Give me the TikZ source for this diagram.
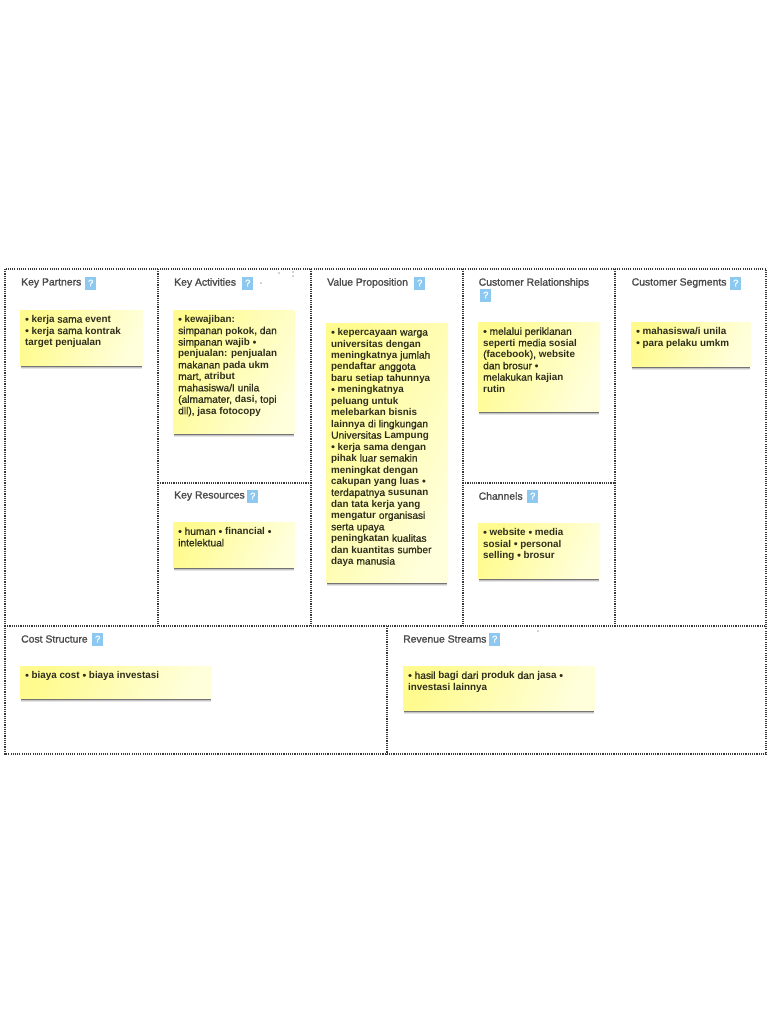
\documentclass[tikz,border=0pt]{standalone}
\usepackage{fontspec}
\setmainfont[FakeBold=0.9]{Liberation Sans}
\newfontfamily\headfont[FakeBold=1.3]{Liberation Sans}
\newfontfamily\strongfont[Scale=0.965]{Liberation Sans Bold}
\newcommand{\bb}[1]{{\strongfont #1}}
\usetikzlibrary{positioning}
\definecolor{gridc}{HTML}{3A3A3A}
\definecolor{headc}{HTML}{4A4A4A}
\definecolor{bodyc}{HTML}{2E2E1C}
\definecolor{helpc}{HTML}{8CC8F0}
\definecolor{stickya}{HTML}{FFFB8E}
\definecolor{stickyb}{HTML}{FFFFDC}
\tikzset{
  gridline/.style={draw=gridc,line width=1.35pt,dash pattern=on 1.1pt off 1.1pt},
  headtext/.style={anchor=west,inner sep=0pt,text=headc,font=\headfont\fontsize{10.4}{11}\selectfont},
  helpbox/.style={anchor=west,inner sep=0pt,minimum width=11pt,minimum height=13pt,fill=helpc,text=white,font=\headfont\fontsize{9.5}{9.5}\selectfont},
  stickybody/.style={anchor=north west,inner sep=0pt,shading=axis,left color=stickya,right color=stickyb,shading angle=65},
  stickytext/.style={anchor=north west,inner sep=0pt,align=left,text=bodyc,font=\fontsize{10.2}{11.45}\selectfont},
  straydot/.style={fill=gridc,inner sep=0pt,minimum size=1.2pt,circle}
}
% #1 name, #2 x, #3 y, #4 width, #5 height, #6 text
\newcommand{\stickynote}[6]{%
  \foreach \s/\o in {3.6/0.1,3/0.14,2.4/0.2,1.8/0.25,1.2/0.3}{%
    \fill[black,opacity=\o] (#2+1,#3+#5-1) rectangle (#2+#4-1,#3+#5+\s);}
  \node[stickybody,minimum width=#4pt,minimum height=#5pt] (#1) at (#2,#3) {};
  \node[stickytext] (#1t) at (#2+5,#3+5.3) {#6};
}
% #1 name, #2 x, #3 y, #4 text, #5 icon x, #6 icon y
\newcommand{\headlabel}[6]{%
  \node[headtext] (#1) at (#2,#3) {#4};
  \node[helpbox] (#1q) at (#5,#6) {?};
}
\begin{document}
\begin{tikzpicture}[x=1pt,y=-1pt]
\useasboundingbox (0,0) rectangle (768,1024);
\fill[white] (0,0) rectangle (768,1024);
% grid
\draw[gridline] (5,269) rectangle (766,754);
\draw[gridline] (5,626) -- (766,626);
\draw[gridline] (158,269) -- (158,626);
\draw[gridline] (311,269) -- (311,626);
\draw[gridline] (463,269) -- (463,626);
\draw[gridline] (615,269) -- (615,626);
\draw[gridline] (387,626) -- (387,754);
\draw[gridline] (158,483) -- (311,483);
\draw[gridline] (463,483) -- (615,483);
% headings
\headlabel{kp}{21}{283}{Key Partners}{85}{283}
\headlabel{ka}{174}{283}{Key Activities}{242}{283}
\headlabel{vp}{327}{283}{Value Proposition}{414}{283}
\headlabel{cr}{478.5}{283}{Customer Relationships}{480}{295}
\headlabel{cs}{631.5}{283}{Customer Segments}{730}{283}
\headlabel{kr}{174}{496}{Key Resources}{247}{496}
\headlabel{ch}{478.5}{496}{Channels}{527}{496}
\headlabel{co}{21}{639}{Cost Structure}{92}{639}
\headlabel{re}{403}{639}{Revenue Streams}{489}{639}
% stickies
\stickynote{skp}{20}{310}{123}{55}{• \bb{kerja} sama \bb{event}\\• \bb{kerja} sama \bb{kontrak}\\\bb{target penjualan}}
\stickynote{ska}{173}{310}{122}{123}{• \bb{kewajiban:}\\simpanan \bb{pokok,} dan\\simpanan \bb{wajib} •\\\bb{penjualan: penjualan}\\makanan \bb{pada ukm}\\mart, \bb{atribut}\\mahasiswa/I unila\\(almamater, \bb{dasi,} topi\\dll), \bb{jasa fotocopy}}
\stickynote{svp}{326}{323}{122}{259}{• \bb{kepercayaan} warga\\\bb{universitas dengan}\\\bb{meningkatnya} jumlah\\\bb{pendaftar} anggota\\\bb{baru setiap tahunnya}\\• \bb{meningkatnya}\\\bb{peluang untuk}\\\bb{melebarkan bisnis}\\\bb{lainnya} di lingkungan\\Universitas \bb{Lampung}\\• \bb{kerja sama dengan}\\\bb{pihak} luar semakin\\\bb{meningkat dengan}\\\bb{cakupan yang luas} •\\terdapatnya \bb{susunan}\\\bb{dan tata kerja yang}\\\bb{mengatur} organisasi\\serta upaya\\\bb{peningkatan} kualitas\\\bb{dan kuantitas} sumber\\\bb{daya} manusia}
\stickynote{scr}{478}{322}{122}{89}{• melalui periklanan\\\bb{seperti} media \bb{sosial}\\(\bb{facebook}), \bb{website}\\dan brosur •\\melakukan \bb{kajian}\\\bb{rutin}}
\stickynote{scs}{631}{322}{120}{44}{• \bb{mahasiswa/i unila}\\• \bb{para pelaku umkm}}
\stickynote{skr}{173}{522}{122}{45}{• human • \bb{financial} •\\intelektual}
\stickynote{sch}{478}{523}{122}{55}{• \bb{website} • \bb{media}\\\bb{sosial} • \bb{personal}\\\bb{selling} • \bb{brosur}}
\stickynote{sco}{20}{666}{192}{32}{• \bb{biaya cost} • \bb{biaya investasi}}
\stickynote{sre}{403}{666}{192}{44}{• hasil \bb{bagi} dari \bb{produk} dan \bb{jasa} •\\\bb{investasi lainnya}}
% stray scan specks
\node[straydot] (d1) at (261,283) {};
\node[straydot] (d2) at (293,272) {};
\node[straydot] (d3) at (293,276) {};
\node[straydot] (d4) at (279,273) {};
\node[straydot] (d5) at (538,631) {};
\end{tikzpicture}
\end{document}
